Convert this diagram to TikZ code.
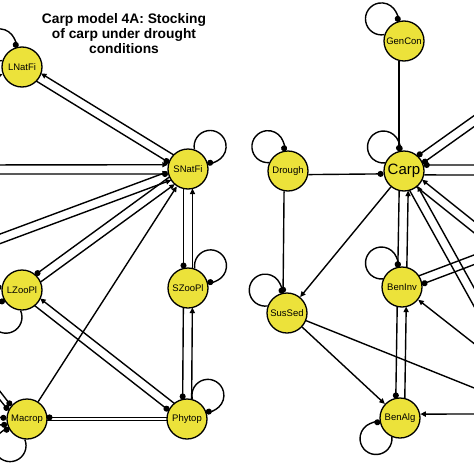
\documentclass[tikz,border=0pt]{standalone}
\usepackage{fontspec}
\setmainfont{Liberation Sans}
\usetikzlibrary{arrows.meta,calc}
\definecolor{nodeyellow}{RGB}{236,226,58}
\tikzset{
  sp/.style={circle,draw=black,line width=1.3pt,fill=nodeyellow,minimum size=40pt,inner sep=0pt,font=\fontsize{9.5}{10}\selectfont},
  lnk/.style={line width=1.4pt,black},
  pe/.style={lnk,-{Triangle[length=5.5pt,width=5pt]}},
  ps/.style={lnk,{Triangle[length=5.5pt,width=5pt]}-},
  ne/.style={lnk,-{Circle[length=6pt]}},
  ns/.style={lnk,{Circle[length=6pt]}-},
  pl/.style={lnk},
}
\newcommand\twin[5][4.5pt]{%
  \draw[#2,shorten <=19.5pt,shorten >=19.5pt] ($(#4)!#1!90:(#5)$) -- ($(#5)!#1!-90:(#4)$);
  \draw[#3,shorten <=19.5pt,shorten >=19.5pt] ($(#4)!#1!-90:(#5)$) -- ($(#5)!#1!90:(#4)$);}
% self loop: circle of radius 16pt centred 31pt from the node centre in direction #2,
% drawn clockwise, dot at the clockwise end
\newcommand\selfloop[2]{%
  \pgfmathsetmacro\lpa{#2+27}\pgfmathsetmacro\lpb{#2+145.4}\pgfmathsetmacro\lpc{#2-145.4}%
  \draw[ne] (#1.\lpa) arc[start angle=\lpb, end angle=\lpc, radius=16pt];}
\begin{document}
\begin{tikzpicture}[x=1pt,y=1pt]
\useasboundingbox (0,0) rectangle (474,-474);
\clip (0,0) rectangle (474,-474);
\fill[white] (0,0) rectangle (474,-474);
% off-picture end points
\coordinate (oLa) at (-30,-165);
\coordinate (oLb) at (-30,-174);
\coordinate (oLd) at (-100,-276);
\coordinate (oLn) at (-30,-88);
\coordinate (oLz) at (-30,-278);
\coordinate (oLm1) at (-40,-340);
\coordinate (oLm2) at (-40,-350);
\coordinate (oLm3) at (-30,-413);
\coordinate (oLm4) at (-30,-426);
\coordinate (oRh1) at (520,-165);
\coordinate (oRh2) at (520,-175);
\coordinate (oRu) at (574,-50);
\coordinate (oRc1) at (544,-283);
\coordinate (oRc2) at (514,-369);
\coordinate (oRb) at (574,-222);
\coordinate (oRl) at (574,-422);
\coordinate (oRs) at (574,-428);
\coordinate (oRa) at (520,-414);
% nodes
\node[sp] (LNatFi) at (22,-67) {LNatFi};
\node[sp] (SNatFi) at (188,-169) {SNatFi};
\node[sp] (LZooPl) at (22,-290) {LZooPl};
\node[sp] (SZooPl) at (188,-288) {SZooPl};
\node[sp] (Macrop) at (27,-419) {Macrop};
\node[sp] (Phytop) at (187,-419) {Phytop};
\node[sp] (GenCon) at (404,-41) {GenCon};
\node[sp] (Drough) at (288,-171) {Drough};
\node[sp,font=\fontsize{15}{15}\selectfont] (Carp) at (404,-171) {Carp};
\node[sp] (SusSed) at (287,-313) {SusSed};
\node[sp] (BenInv) at (402,-287) {BenInv};
\node[sp] (BenAlg) at (400,-418) {BenAlg};
\node[font=\bfseries\fontsize{13.8}{15}\selectfont,align=center] (title) at (124,-34)
  {Carp model 4A: Stocking\\of carp under drought\\conditions};
% left part
\twin{ps}{ne}{LNatFi}{SNatFi}
\twin{ns}{pe}{LZooPl}{SNatFi}
\twin{ps}{ne}{SNatFi}{SZooPl}
\twin{ps}{ne}{SZooPl}{Phytop}
\twin{ps}{ne}{LZooPl}{Phytop}
\twin[1.6pt]{ns}{pl}{Macrop}{Phytop}
\twin{pe}{pe}{oLd}{SNatFi}
\draw[pe] (Macrop) -- (SNatFi);
\draw[pe] (oLa) -- (SNatFi.168.5);
\draw[ne] (oLb) -- (SNatFi.194.5);
\draw[pe] (oLn) -- (LNatFi.200);
\draw[ne] (oLz) -- (LZooPl.175);
\draw[ne] (oLm1) -- (Macrop.140);
\draw[ne] (oLm2) -- (Macrop.155);
\draw[ne] (oLm3) -- (Macrop.178);
\draw[ne] (oLm4) -- (Macrop.196);
\selfloop{LNatFi}{135}
\selfloop{SNatFi}{45}
\selfloop{SZooPl}{44}
\selfloop{Phytop}{48}
\selfloop{LZooPl}{239}
\selfloop{Macrop}{237}
% right part
\selfloop{GenCon}{135}
\selfloop{Carp}{130}
\selfloop{Drough}{129}
\selfloop{SusSed}{133}
\selfloop{BenInv}{130}
\selfloop{BenAlg}{220}
\draw[ne] (GenCon.-104) -- (Carp.104);
\draw[ne] (Drough.-10) -- (Carp.188);
\draw[ne] (Drough.-101) -- (SusSed.101);
\draw[pe] (Carp) -- (SusSed);
\twin{ps}{ne}{Carp}{BenInv}
\twin{ps}{ne}{BenInv}{BenAlg}
\draw[pe] (SusSed) -- (BenAlg);
\draw[pl] (SusSed) -- (oRs);
\draw[pe] (oRa) -- (BenAlg.11.5);
\draw[pe] (oRl) -- (BenInv);
\twin{ne}{pl}{oRb}{BenInv}
\draw[ns] (Carp.17.5) -- (oRh1);
\draw[pl] (Carp.-11.5) -- (oRh2);
\twin{ne}{ne}{oRu}{Carp}
\twin{ps}{pl}{Carp}{oRc1}
\twin{ps}{pl}{Carp}{oRc2}
\end{tikzpicture}
\end{document}
